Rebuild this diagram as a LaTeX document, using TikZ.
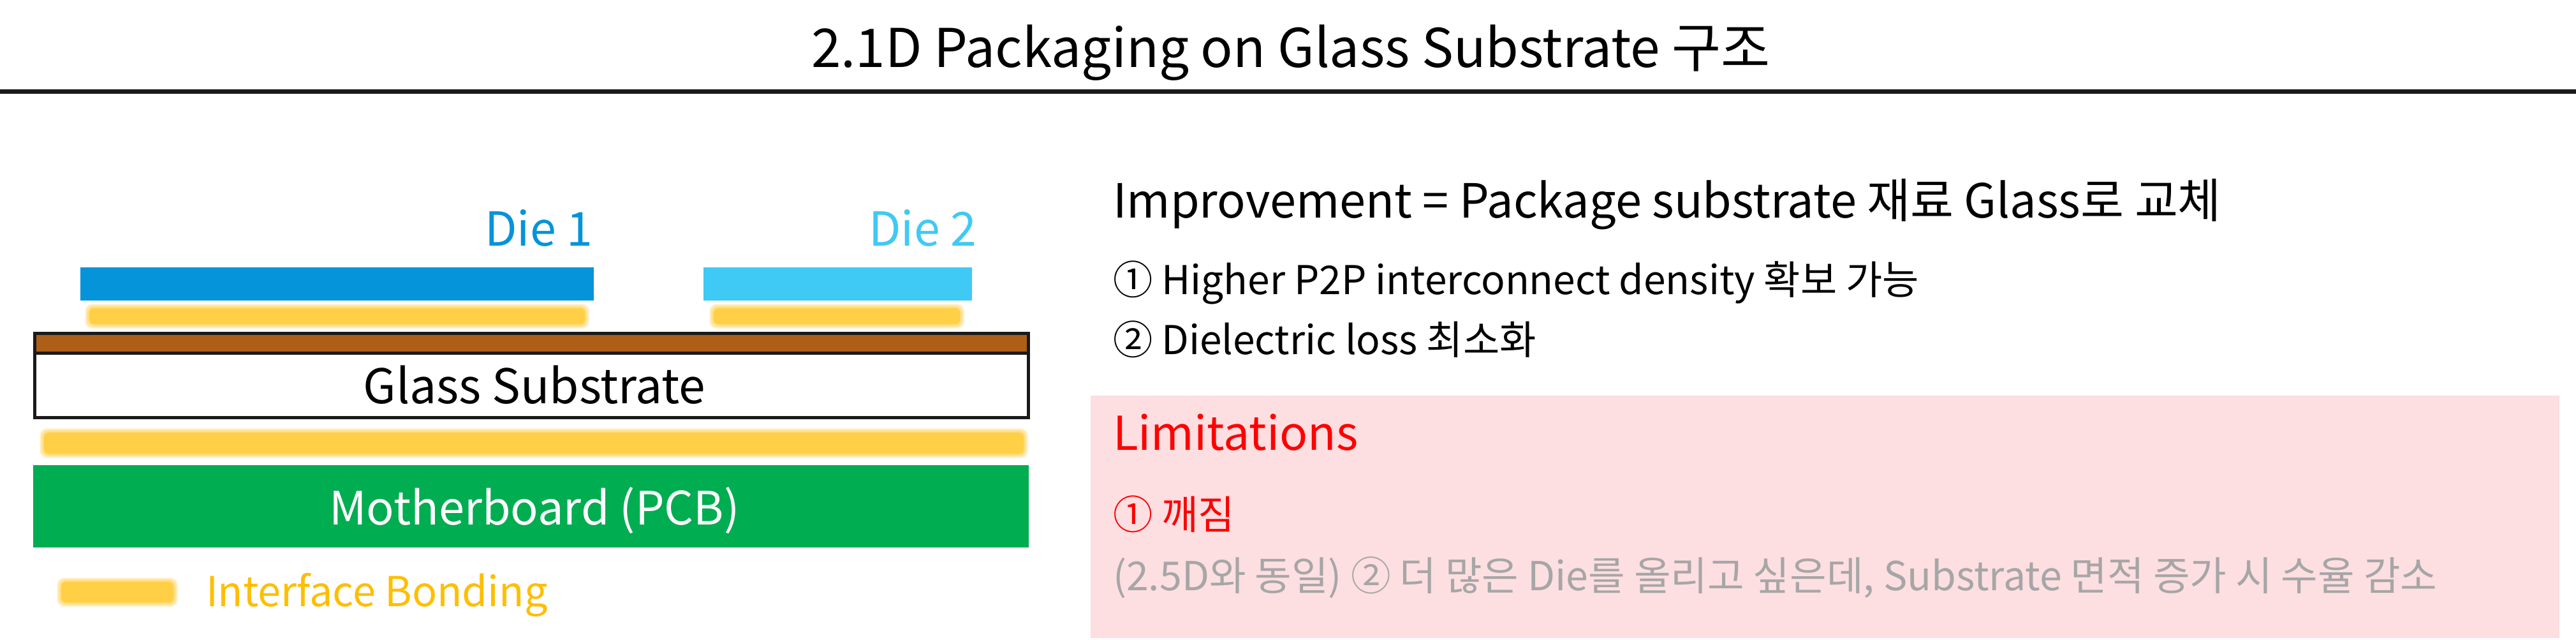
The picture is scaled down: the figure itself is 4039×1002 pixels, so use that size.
\documentclass[tikz,border=0pt]{standalone}
\usepackage{fontspec}
\setmainfont{Noto Sans CJK KR}
\setsansfont{Noto Sans CJK KR}
\definecolor{die1col}{HTML}{0593DA}
\definecolor{die2col}{HTML}{3FC9F5}
\definecolor{browncol}{HTML}{AD5E17}
\definecolor{bondcol}{HTML}{FFD045}
\definecolor{bondtxt}{HTML}{FFBE00}
\definecolor{greencol}{HTML}{00AD50}
\definecolor{pinkcol}{HTML}{FDDEE1}
\definecolor{edgecol}{HTML}{1A1A1A}
\definecolor{graytxt}{HTML}{A6A6A6}
\newcommand{\fs}[1]{\fontsize{#1}{#1}\selectfont}
\newcommand{\bondbar}[4]{%
  \foreach \k in {7,6,...,1}{%
    \fill[bondcol, opacity=0.16, rounded corners=3pt] (#1-\k,#2-\k) rectangle (#3+\k,#4+\k);}%
  \fill[bondcol, rounded corners=2pt] (#1,#2) rectangle (#3,#4);}
\tikzset{
  txt/.style={inner sep=0pt, outer sep=0pt},
}
\begin{document}
\begin{tikzpicture}[x=0.01cm,y=-0.01cm]
\useasboundingbox[fill=white] (0,0) rectangle (4039,1002);
% title
\node[txt, anchor=base] (title) at (2024,105) {\fs{23.8}2.1D Packaging on Glass Substrate 구조};
\draw[edgecol, line width=2pt] (0,143.5) -- (4039,143.5);
% dies
\fill[die1col] (126,419) rectangle (931,471);
\fill[die2col] (1103,419) rectangle (1524,471);
\node[txt, anchor=base east, text=die1col] (d1) at (929,385) {\fs{20.9}Die 1};
\node[txt, anchor=base east, text=die2col] (d2) at (1531,385) {\fs{20.9}Die 2};
% bonding under dies
\bondbar{140}{483}{917}{508}
\bondbar{1119}{483}{1505}{508}
% glass substrate
\fill[browncol] (54.5,522.5) rectangle (1612.5,553.5);
\draw[edgecol, line width=1.42pt] (54.5,522.5) rectangle (1612.5,654.5);
\draw[edgecol, line width=1.42pt] (54.5,553.5) -- (1612.5,553.5);
\node[txt, anchor=base] (gs) at (838,632) {\fs{21.3}Glass Substrate};
% big bonding
\bondbar{69}{678}{1605}{711}
% motherboard
\fill[greencol] (52,729) rectangle (1613,858);
\node[txt, anchor=base, text=white] (mb) at (838,822) {\fs{20.5}Motherboard (PCB)};
% legend
\bondbar{96}{912}{272}{944}
\node[txt, anchor=base west, text=bondtxt] (lg) at (323,950) {\fs{18.4}Interface Bonding};
% right text
\node[txt, anchor=base west] (imp) at (1745,341) {\fs{21.0}Improvement = Package substrate 재료 Glass로 교체};
\node[txt, anchor=base west] (i1) at (1745,461) {\fs{17.7}① Higher P2P interconnect density 확보 가능};
\node[txt, anchor=base west] (i2) at (1745,555) {\fs{17.7}② Dielectric loss 최소화};
% limitations box
\fill[pinkcol] (1710,620) rectangle (4013,1000);
\node[txt, anchor=base west, text=red] (lim) at (1745,705) {\fs{20.8}Limitations};
\node[txt, anchor=base west, text=red] (l1) at (1745,829) {\fs{17.7}① 깨짐};
\node[txt, anchor=base west, text=graytxt] (l2) at (1745,925) {\fs{17.8}(2.5D와 동일) ② 더 많은 Die를 올리고 싶은데, Substrate 면적 증가 시 수율 감소};
\end{tikzpicture}
\end{document}
